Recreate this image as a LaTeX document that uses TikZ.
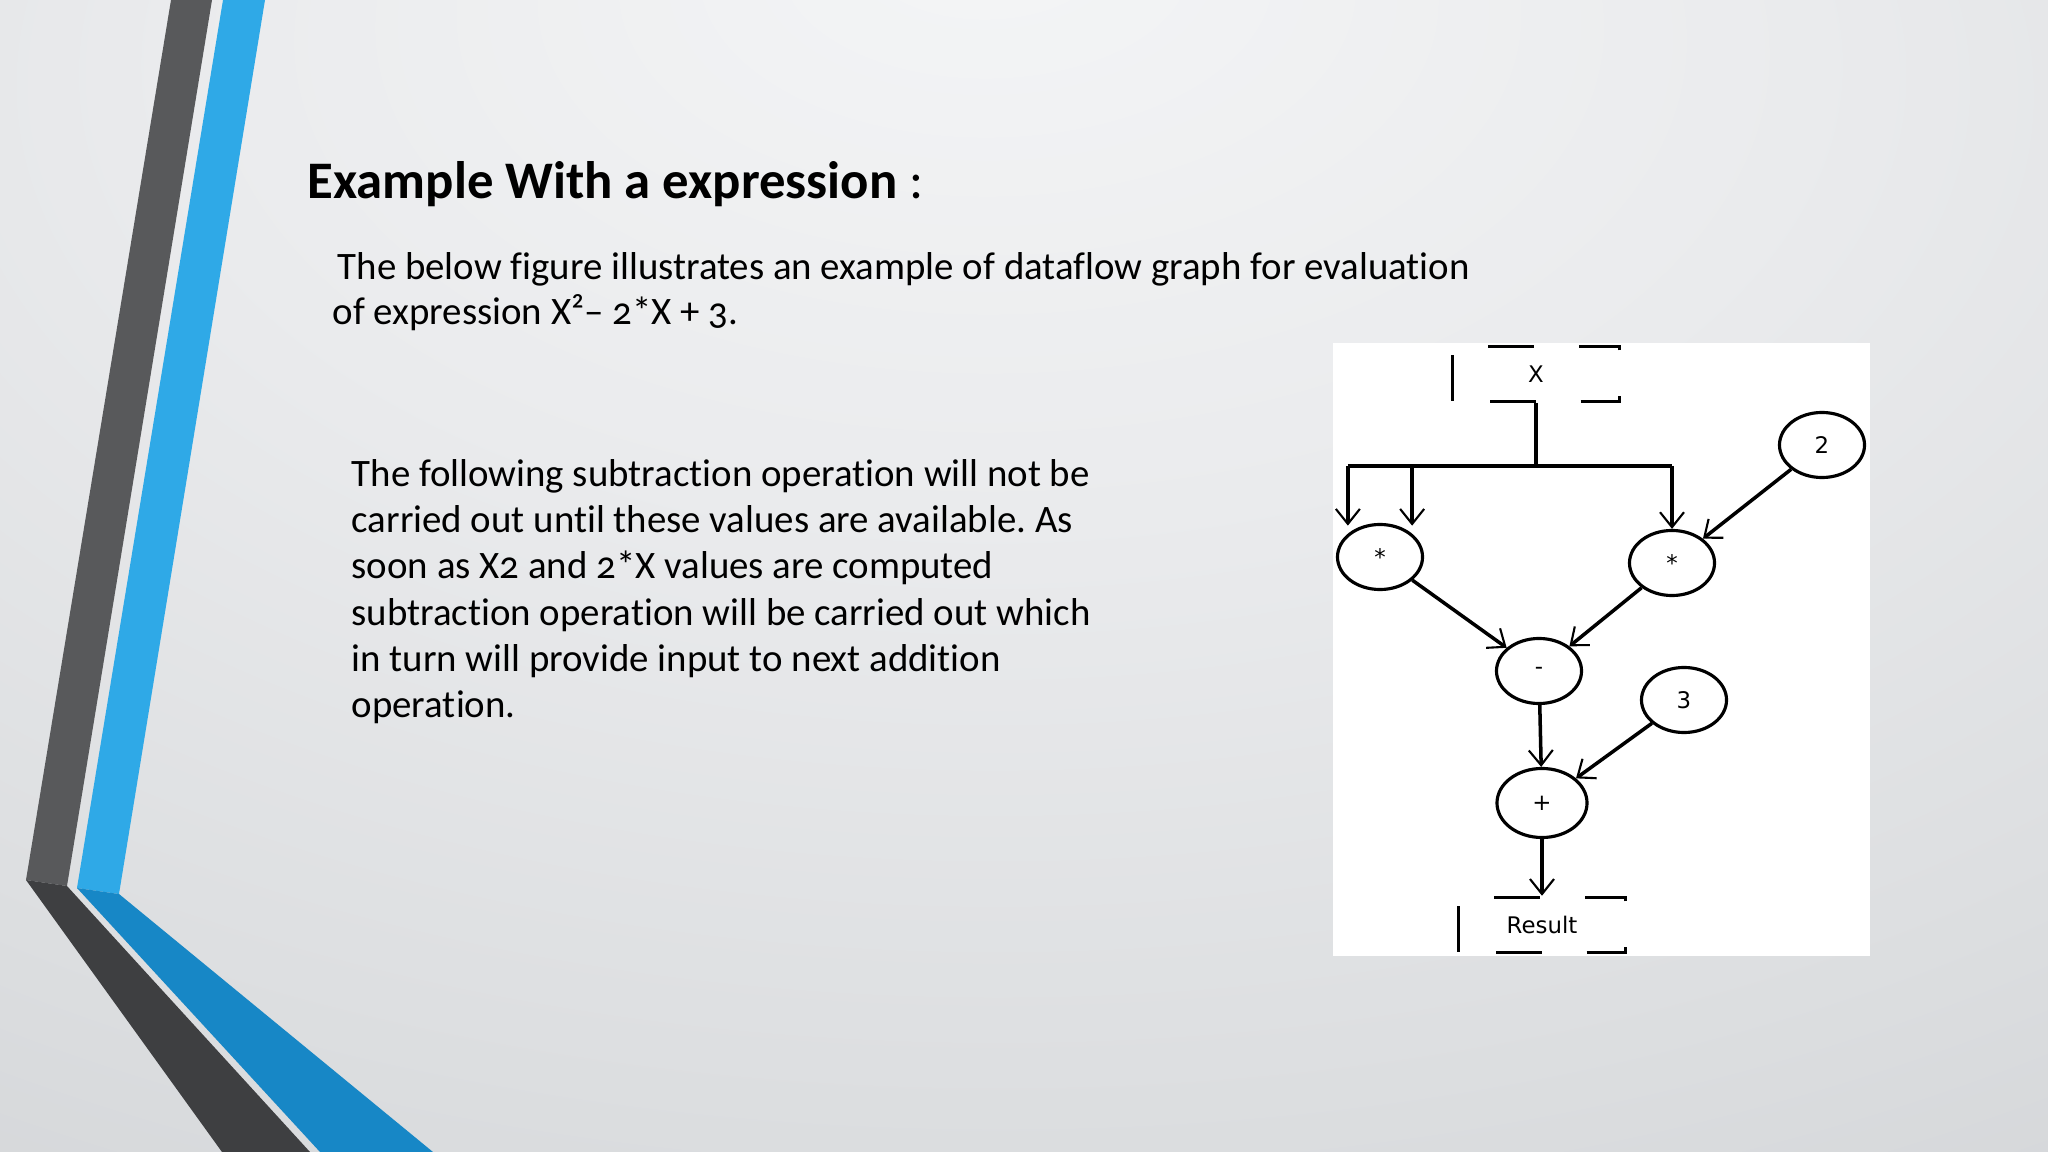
\documentclass[tikz,border=0pt]{standalone}
\usepackage{fontspec}
\setmainfont{Carlito}[Numbers=OldStyle, Ligatures=NoCommon]
\newfontfamily\graphfont{DejaVu Sans}
\usetikzlibrary{arrows.meta,shapes.geometric}

\definecolor{glowA}{HTML}{F4F5F6}
\definecolor{glowB}{HTML}{EAEBED}
\definecolor{glowC}{HTML}{DCDEE0}
\definecolor{glowD}{HTML}{D0D2D5}
\definecolor{glowE}{HTML}{BBBDC0}
\definecolor{glowF}{HTML}{B4B6B9}
\definecolor{stripegray}{HTML}{58595B}
\definecolor{stripedark}{HTML}{3E3F41}
\definecolor{stripeblue}{HTML}{2FA9E7}
\definecolor{stripedeep}{HTML}{1787C6}

\pgfdeclareradialshading{slideglow}{\pgfpoint{-1bp}{28bp}}{%
  color(0bp)=(glowA); color(20bp)=(glowB); color(40bp)=(glowC);
  color(55bp)=(glowD); color(78bp)=(glowE); color(100bp)=(glowF)}

\newcommand{\bodysize}{\fontsize{11.05pt}{13.3pt}\selectfont}
\newcommand{\titlesize}{\fontsize{15pt}{18pt}\selectfont}
\newcommand{\graphsize}{\graphfont\fontsize{6.5pt}{8pt}\selectfont}
\frenchspacing

\begin{document}
\begin{tikzpicture}[x=0.01cm, y=-0.01cm,
    bodytext/.style={anchor=base west, inner sep=0pt, font=\bodysize},
    opnode/.style={draw, ellipse, line width=0.9pt, minimum width=0.85cm,
      minimum height=0.65cm, inner sep=0pt, font=\graphsize},
    iobox/.style={draw, line width=1pt, minimum width=1.67cm, minimum height=0.55cm,
      inner sep=0pt, dash pattern=on 0.45cm off 0.45cm, dash phase=0.52cm, font=\graphsize},
    flow/.style={line width=1pt, -{Straight Barb[length=0.15cm, width=0.24cm, line width=0.6pt]}}]
    % ---------------------------------------------
    % slide background
    \useasboundingbox (0,0) rectangle (2048,1152);
    \shade[shading=slideglow] (0,0) rectangle (2048,1152);

    % left stripes
    \fill[stripegray] (171,0) -- (212,0) -- (67,886) -- (26,880) -- cycle;
    \fill[stripeblue] (223,0) -- (265,0) -- (119,894) -- (77,888) -- cycle;
    \fill[stripedark] (26,880) -- (67,886) -- (310,1152) -- (222,1152) -- cycle;
    \fill[stripedeep] (77,888) -- (119,894) -- (433,1152) -- (320,1152) -- cycle;

    % heading and text
    \node[bodytext, font=\titlesize] (title) at (307,199) {\textbf{Example With a expression} :};
    \node[bodytext] (intro1) at (337,280) {The below figure illustrates an example of dataflow graph for evaluation};
    \node[bodytext] (intro2) at (332,325) {of expression X²– 2*X + 3.};
    \foreach \txt [count=\i] in {The following subtraction operation will not be,
        carried out until these values are available. As,
        soon as X2 and 2*X values are computed,
        subtraction operation will be carried out which,
        in turn will provide input to next addition,
        operation.}
      \node[bodytext] (para\i) at (351,{487+46*(\i-1)}) {\txt};

    % dataflow graph
    \fill[white] (1333,343) rectangle (1870,956);
    \node[iobox] (xin) at (1536,374) {X};
    \node[opnode] (two) at (1822,445) {2};
    \node[opnode] (mull) at (1380,557) {*};
    \node[opnode] (mulr) at (1672,563) {*};
    \node[opnode] (sub) at (1539,671) {-};
    \node[opnode] (three) at (1684,700) {3};
    \node[opnode, minimum width=0.9cm, minimum height=0.69cm] (add) at (1542,803) {+};
    \node[iobox] (res) at (1542,925) {Result};

    % fan out of X
    \coordinate (bus) at (1536,466);
    \draw[line width=1pt] (xin.south) -- (bus);
    \draw[line width=1pt] (bus -| mull.144) -- (bus -| mulr.north);
    \draw[flow, shorten >=0.08cm] (bus -| mull.144) -- (mull.144);
    \draw[flow, shorten >=0.08cm] (bus -| mull.36) -- (mull.36);
    \draw[flow] (bus -| mulr.north) -- (mulr.north);

    % operands and results
    \draw[flow] (two) -- (mulr);
    \draw[flow] (mull) -- (sub);
    \draw[flow] (mulr) -- (sub);
    \draw[flow] (sub) -- (add);
    \draw[flow] (three) -- (add);
    \draw[flow] (add) -- (res);

\end{tikzpicture}
\end{document}
